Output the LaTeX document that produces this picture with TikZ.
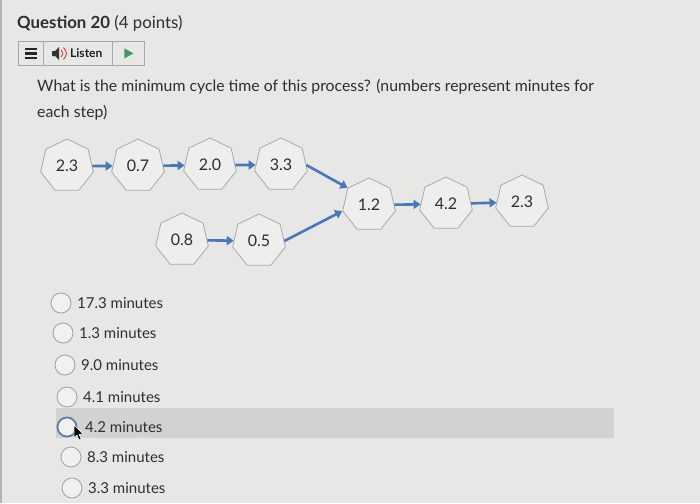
\documentclass[tikz,border=0pt]{standalone}
\usepackage{fontspec}
\setmainfont{Lato}
\usetikzlibrary{shapes.geometric}
\usetikzlibrary{arrows.meta}

\definecolor{bgpage}{HTML}{E7E7E5}
\definecolor{bandgray}{HTML}{D2D2D0}
\definecolor{flowblue}{HTML}{4A76BD}
\definecolor{edgegray}{HTML}{A9A9A7}
\definecolor{txtgray}{HTML}{2E2E2E}
\definecolor{playgreen}{HTML}{3E9A5A}
\definecolor{speakred}{HTML}{C8504A}

\tikzset{
  station/.style={regular polygon, regular polygon sides=7, minimum size=54pt,
    inner sep=0pt, draw=edgegray, fill=white!28!bgpage, line width=0.8pt,
    text=txtgray, font=\fontsize{16}{16}\selectfont},
  flow/.style={draw=flowblue, line width=2.6pt, -{Triangle[length=7pt,width=9pt]}},
  radio/.style={circle, minimum size=20pt, inner sep=0pt, draw=gray!75,
    line width=0.8pt, fill=white!40!bgpage},
  answer/.style={anchor=west, inner sep=0pt, text=txtgray,
    font=\fontsize{15}{15}\selectfont},
  toolcell/.style={draw=gray!70, line width=0.8pt, anchor=north west,
    minimum height=24pt, inner sep=0pt},
}

\begin{document}
\begin{tikzpicture}[x=1pt,y=-1pt]
  \fill[bgpage] (0,0) rectangle (700,503);
  \useasboundingbox (0,0) rectangle (700,503);
  \fill[gray!60] (0,0) rectangle (2,503);

  % header
  \node[anchor=base west, inner sep=0pt, text=txtgray,
    font=\fontsize{16.8}{17}\selectfont] (title) at (17,29) {\textbf{Question 20} (4 points)};

  \node[toolcell, minimum width=25pt] (menu) at (18,41) {};
  \node[toolcell, minimum width=69pt] (listen) at (43,41) {};
  \node[toolcell, minimum width=32pt] (play) at (112,41) {};
  \foreach \dy in {-4.5,0,4.5}
    \fill[gray!30!black] ([xshift=-6pt,yshift=\dy pt]menu.center) ++(0,-1.2) rectangle ++(12,2.4);
  \fill[gray!40!black] (52,51) -- ++(3,0) -- ++(4,-4) -- ++(0,13) -- ++(-4,-4) -- ++(-3,0) -- cycle;
  \draw[speakred, line width=1pt] (61,50) .. controls (63.5,53.5) .. (61,57);
  \draw[speakred, line width=1pt] (63.5,47.5) .. controls (67.5,53.5) .. (63.5,59.5);
  \node[anchor=west, inner sep=0pt, text=gray!25!black,
    font=\fontsize{12}{12}\selectfont\bfseries] (listentxt) at (70,53.5) {Listen};
  \fill[playgreen] ([xshift=-4pt]play.center) ++(0,-5) -- ++(9,5) -- ++(-9,5) -- cycle;

  % question
  \node[anchor=base west, inner sep=0pt, text=txtgray, font=\fontsize{15.8}{16}\selectfont]
    (q1) at (37,91) {What is the minimum cycle time of this process? (numbers represent minutes for};
  \node[anchor=base west, inner sep=0pt, text=txtgray, font=\fontsize{15.8}{16}\selectfont]
    (q2) at (37,117) {each step)};

  % process steps
  \node[station] (a1) at (67,166) {2.3};
  \node[station] (a2) at (138,166) {0.7};
  \node[station] (a3) at (210,165) {2.0};
  \node[station] (a4) at (281,165) {3.3};
  \node[station] (b1) at (182,240) {0.8};
  \node[station] (b2) at (259,241) {0.5};
  \node[station] (m1) at (369,205) {1.2};
  \node[station] (m2) at (446,204) {4.2};
  \node[station] (m3) at (522,202) {2.3};

  \draw[flow] (a1) -- (a2);
  \draw[flow] (a2) -- (a3);
  \draw[flow] (a3) -- (a4);
  \draw[flow] (a4.east) -- (m1.corner 2);
  \draw[flow] (b1) -- (b2);
  \draw[flow] (b2.east) -- (m1.corner 3);
  \draw[flow] (m1) -- (m2);
  \draw[flow] (m2) -- (m3);

  % answers
  \fill[bandgray] (56,408) rectangle (614,438);
  \foreach \i/\cx/\cy/\tx/\lbl in {1/61/303/77/17.3, 2/63/333/79/1.3, 3/65/365/81/9.0,
      4/67/397/83/4.1, 5/67/427/85/4.2, 6/71/457/87/8.3, 7/72/488/88/3.3} {
    \node[radio] (opt\i) at (\cx,\cy) {};
    \node[answer] (lbl\i) at (\tx,\cy) {\lbl\ minutes};
  }
  \draw[flowblue!80!gray, line width=1.6pt] (opt5) circle (9.5);

  % mouse pointer
  \filldraw[fill=black, draw=white, line width=0.5pt] (74,425) -- (74,438) -- (77,435)
    -- (79,440) -- (81,439) -- (79,434) -- (83,434) -- cycle;
\end{tikzpicture}
\end{document}
